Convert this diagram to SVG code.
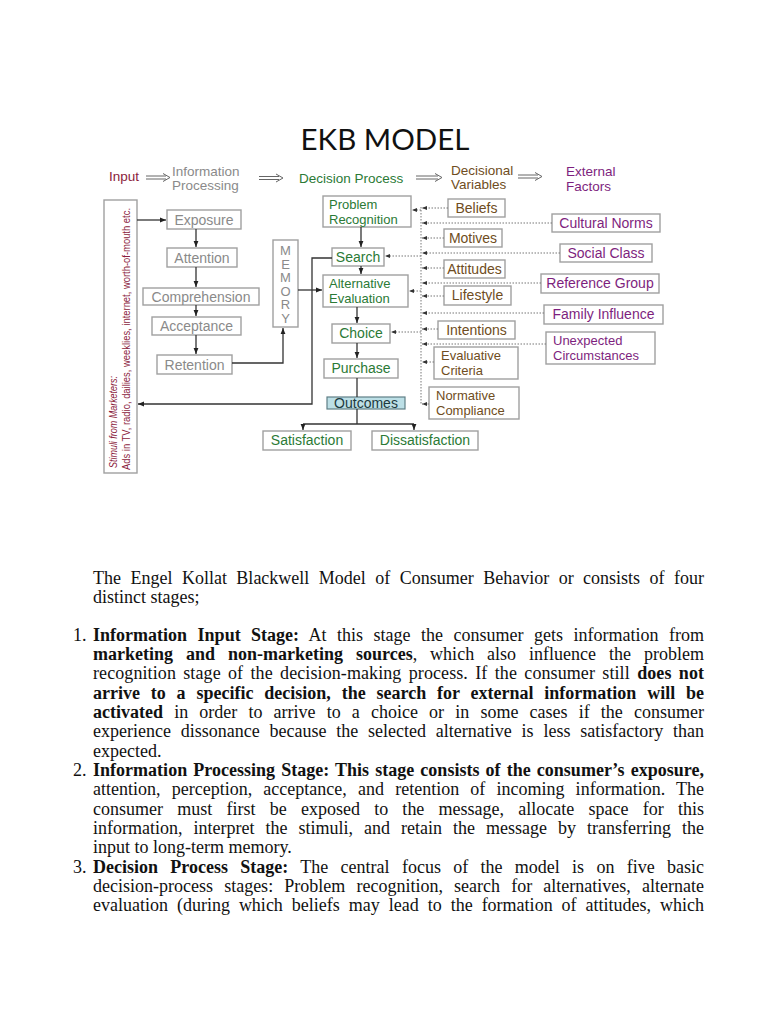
<svg xmlns="http://www.w3.org/2000/svg" width="768" height="1024" viewBox="0 0 768 1024">
<defs>
<marker id="ah" viewBox="0 0 10 10" refX="10" refY="5" markerWidth="6" markerHeight="6" markerUnits="userSpaceOnUse" orient="auto"><path d="M0,1 L10,5 L0,9 z" fill="#222"/></marker>
<marker id="ad" viewBox="0 0 10 10" refX="10" refY="5" markerWidth="5" markerHeight="5" markerUnits="userSpaceOnUse" orient="auto"><path d="M0,1 L10,5 L0,9 z" fill="#333"/></marker>
</defs>
<style>
.box{fill:#fff;stroke:#a0a0a0;stroke-width:1.4}
.t{font-family:"Liberation Sans",Arial,sans-serif;font-size:14px}
.t2{font-family:"Liberation Sans",Arial,sans-serif;font-size:13px}
.h{font-family:"Liberation Sans",Arial,sans-serif;font-size:13.5px}
.ip{fill:#8a8a8a}
.dp{fill:#2b7a36}
.dv{fill:#6f4d22}
.ef{fill:#7e1f7e}
.c{text-anchor:middle}
.solid{fill:none;stroke:#333;stroke-width:1.3}
.dot{fill:none;stroke:#777;stroke-width:1;stroke-dasharray:1.5 1.5}
.hdr{fill:none;stroke:#666;stroke-width:1}
.p{font-family:"Liberation Serif","Times New Roman",serif;font-size:18px;fill:#111}
.b{font-weight:bold}
</style>
<rect width="768" height="1024" fill="#fff"/>

<text x="385" y="150" font-family="Lato,'Open Sans',sans-serif" font-size="29.5" fill="#111" text-anchor="middle">EKB MODEL</text>

<g id="header" class="h">
<text x="109" y="181" fill="#8b1c3c">Input</text>
<text x="172" y="175.5" class="ip">Information</text>
<text x="172" y="190" class="ip">Processing</text>
<text x="299" y="183" class="dp">Decision Process</text>
<text x="451" y="174.5" class="dv">Decisional</text>
<text x="451" y="189" class="dv">Variables</text>
<text x="566" y="176" class="ef">External</text>
<text x="566" y="191" class="ef">Factors</text>
<path class="hdr" d="M146,176 H166 M146,179 H166 M163,173.5 L170,177.5 L163,181.5"/>
<path class="hdr" d="M259,176.5 H279 M259,179.5 H279 M276,174 L283,178 L276,182"/>
<path class="hdr" d="M416,176 H438 M416,179 H438 M435,173.5 L442,177.5 L435,181.5"/>
<path class="hdr" d="M518,175 H538 M518,178 H538 M535,172.5 L542,176.5 L535,180.5"/>
</g>

<g id="stimuli">
<rect class="box" x="104" y="200" width="33" height="273"/>
<text transform="translate(117,468) rotate(-90)" font-family="'Liberation Sans',Arial,sans-serif" font-size="11.5" font-style="italic" fill="#8b1c3c" textLength="92" lengthAdjust="spacingAndGlyphs">Stimuli from Marketers:</text>
<text transform="translate(130,470) rotate(-90)" font-family="'Liberation Sans',Arial,sans-serif" font-size="11.5" fill="#8b1c3c" textLength="262" lengthAdjust="spacingAndGlyphs">Ads in TV, radio, dailies, weeklies, internet, worth-of-mouth etc.</text>
</g>

<g id="exposure"><rect class="box" x="167" y="210" width="74" height="19"/><text class="t ip c" x="204" y="224.5">Exposure</text></g>
<g id="attention"><rect class="box" x="167" y="248" width="70" height="19"/><text class="t ip c" x="202" y="262.5">Attention</text></g>
<g id="comprehension"><rect class="box" x="143" y="288" width="116" height="17"/><text class="t ip c" x="201" y="301.5">Comprehension</text></g>
<g id="acceptance"><rect class="box" x="152" y="317" width="89" height="18"/><text class="t ip c" x="196.5" y="331">Acceptance</text></g>
<g id="retention"><rect class="box" x="157" y="355" width="75" height="19"/><text class="t ip c" x="194.5" y="369.5">Retention</text></g>
<g id="memory"><rect class="box" x="273" y="240" width="25" height="87"/>
<text class="ip c" font-family="'Liberation Sans',Arial,sans-serif" font-size="13"><tspan x="285.5" y="255">M</tspan><tspan x="285.5" y="268.5">E</tspan><tspan x="285.5" y="282">M</tspan><tspan x="285.5" y="295.5">O</tspan><tspan x="285.5" y="309">R</tspan><tspan x="285.5" y="322.5">Y</tspan></text></g>

<g id="problem"><rect class="box" x="323" y="196" width="88" height="31"/><text class="t2 dp" x="329" y="209">Problem</text><text class="t2 dp" x="329" y="223.5">Recognition</text></g>
<g id="search"><rect class="box" x="332" y="248" width="52" height="18"/><text class="t dp c" x="358" y="262">Search</text></g>
<g id="alternative"><rect class="box" x="323" y="275" width="85" height="32"/><text class="t2 dp" x="329" y="288">Alternative</text><text class="t2 dp" x="329" y="302.5">Evaluation</text></g>
<g id="choice"><rect class="box" x="332" y="324" width="58" height="19"/><text class="t dp c" x="361" y="338">Choice</text></g>
<g id="purchase"><rect class="box" x="324" y="359" width="74" height="19"/><text class="t dp c" x="361" y="373">Purchase</text></g>
<g id="outcomes"><rect x="327" y="397" width="78" height="12" fill="#bcdfe6" stroke="#5f7f86" stroke-width="1.2"/><text class="t c" x="366" y="407.5" fill="#1c3a40">Outcomes</text></g>
<g id="satisfaction"><rect class="box" x="263" y="431" width="88" height="19"/><text class="t dp c" x="307" y="445">Satisfaction</text></g>
<g id="dissatisfaction"><rect class="box" x="372" y="431" width="106" height="19"/><text class="t dp c" x="425" y="445">Dissatisfaction</text></g>

<g id="beliefs"><rect class="box" x="448" y="199" width="57" height="18"/><text class="t dv c" x="476.5" y="213">Beliefs</text></g>
<g id="motives"><rect class="box" x="444" y="229" width="58" height="18"/><text class="t dv c" x="473" y="243">Motives</text></g>
<g id="attitudes"><rect class="box" x="444" y="260" width="61" height="18"/><text class="t dv c" x="474.5" y="274">Attitudes</text></g>
<g id="lifestyle"><rect class="box" x="444" y="286" width="67" height="19"/><text class="t dv c" x="477.5" y="300">Lifestyle</text></g>
<g id="intentions"><rect class="box" x="438" y="321" width="77" height="18"/><text class="t dv c" x="476.5" y="335">Intentions</text></g>
<g id="evaluative"><rect class="box" x="434" y="347" width="84" height="32"/><text class="t2 dv" x="441" y="360">Evaluative</text><text class="t2 dv" x="441" y="374.5">Criteria</text></g>
<g id="normative"><rect class="box" x="429" y="387" width="90" height="32"/><text class="t2 dv" x="436" y="400">Normative</text><text class="t2 dv" x="436" y="414.5">Compliance</text></g>

<g id="cultural"><rect class="box" x="552" y="214" width="108" height="18"/><text class="t ef c" x="606" y="228">Cultural Norms</text></g>
<g id="social"><rect class="box" x="560" y="244" width="92" height="18"/><text class="t ef c" x="606" y="258">Social Class</text></g>
<g id="reference"><rect class="box" x="541" y="274" width="118" height="19"/><text class="t ef c" x="600" y="288">Reference Group</text></g>
<g id="family"><rect class="box" x="544" y="305" width="119" height="19"/><text class="t ef c" x="603.5" y="319">Family Influence</text></g>
<g id="unexpected"><rect class="box" x="546" y="332" width="109" height="32"/><text class="t2 ef" x="553" y="345">Unexpected</text><text class="t2 ef" x="553" y="359.5">Circumstances</text></g>

<g id="connectors">
<path class="solid" d="M137,220 H166" marker-end="url(#ah)"/>
<path class="solid" d="M196,229 V247" marker-end="url(#ah)"/>
<path class="solid" d="M196,267 V287" marker-end="url(#ah)"/>
<path class="solid" d="M196,305 V316" marker-end="url(#ah)"/>
<path class="solid" d="M196,335 V354" marker-end="url(#ah)"/>
<path class="solid" d="M232,363 H283 V328" marker-end="url(#ah)"/>
<path class="solid" d="M298,290 H322" marker-end="url(#ah)"/>
<path class="solid" d="M332,258 H312 V404 H138" marker-end="url(#ah)"/>
<path class="solid" d="M361,227 V247" marker-end="url(#ah)"/>
<path class="solid" d="M361,266 V274" marker-end="url(#ah)"/>
<path class="solid" d="M357,307 V323" marker-end="url(#ah)"/>
<path class="solid" d="M357,343 V358" marker-end="url(#ah)"/>
<path class="solid" d="M357,378 V397"/>
<path class="solid" d="M357,409 V424"/>
<path class="solid" d="M303,424 H414"/>
<path class="solid" d="M303,424 V430" marker-end="url(#ah)"/>
<path class="solid" d="M414,424 V430" marker-end="url(#ah)"/>

<path class="dot" d="M421,207 V405"/>
<path class="dot" d="M421,210 H412" marker-end="url(#ad)"/>
<path class="dot" d="M421,256 H385" marker-end="url(#ad)"/>
<path class="dot" d="M421,291 H409" marker-end="url(#ad)"/>
<path class="dot" d="M421,332 H391" marker-end="url(#ad)"/>

<path class="dot" d="M448,208 H422" marker-end="url(#ad)"/>
<path class="dot" d="M552,223 H422" marker-end="url(#ad)"/>
<path class="dot" d="M444,238 H422" marker-end="url(#ad)"/>
<path class="dot" d="M560,253 H422" marker-end="url(#ad)"/>
<path class="dot" d="M444,268 H422" marker-end="url(#ad)"/>
<path class="dot" d="M541,283 H422" marker-end="url(#ad)"/>
<path class="dot" d="M444,296 H422" marker-end="url(#ad)"/>
<path class="dot" d="M544,313 H422" marker-end="url(#ad)"/>
<path class="dot" d="M438,329 H422" marker-end="url(#ad)"/>
<path class="dot" d="M546,344 H422" marker-end="url(#ad)"/>
<path class="dot" d="M434,362 H422" marker-end="url(#ad)"/>
<path class="dot" d="M429,404 H422" marker-end="url(#ad)"/>
</g>

<g id="body" class="p">
<text x="93" y="584" word-spacing="4.96" textLength="611" lengthAdjust="spacing">The Engel Kollat Blackwell Model of Consumer Behavior or consists of four</text>
<text x="93" y="603">distinct stages;</text>
<text x="73" y="641">1.</text>
<text x="93" y="641" word-spacing="5.9" textLength="611" lengthAdjust="spacing"><tspan class="b">Information Input Stage:</tspan> At this stage the consumer gets information from</text>
<text x="93" y="660" word-spacing="8.44" textLength="611" lengthAdjust="spacing"><tspan class="b">marketing and non-marketing sources</tspan>, which also influence the problem</text>
<text x="93" y="679" word-spacing="2.72" textLength="611" lengthAdjust="spacing">recognition stage of the decision-making process. If the consumer still <tspan class="b">does not</tspan></text>
<text x="93" y="699" word-spacing="6.28" textLength="611" lengthAdjust="spacing" class="b">arrive to a specific decision, the search for external information will be</text>
<text x="93" y="718" word-spacing="6.65" textLength="611" lengthAdjust="spacing"><tspan class="b">activated</tspan> in order to arrive to a choice or in some cases if the consumer</text>
<text x="93" y="737" word-spacing="5.3" textLength="611" lengthAdjust="spacing">experience dissonance because the selected alternative is less satisfactory than</text>
<text x="93" y="757">expected.</text>
<text x="73" y="776">2.</text>
<text x="93" y="776" word-spacing="1.56" textLength="611" lengthAdjust="spacing" class="b">Information Processing Stage: This stage consists of the consumer’s exposure,</text>
<text x="93" y="795" word-spacing="6.64" textLength="611" lengthAdjust="spacing">attention, perception, acceptance, and retention of incoming information. The</text>
<text x="93" y="815" word-spacing="9.74" textLength="611" lengthAdjust="spacing">consumer must first be exposed to the message, allocate space for this</text>
<text x="93" y="834" word-spacing="6.51" textLength="611" lengthAdjust="spacing">information, interpret the stimuli, and retain the message by transferring the</text>
<text x="93" y="853">input to long-term memory.</text>
<text x="73" y="873">3.</text>
<text x="93" y="873" word-spacing="7.76" textLength="611" lengthAdjust="spacing"><tspan class="b">Decision Process Stage:</tspan> The central focus of the model is on five basic</text>
<text x="93" y="892" word-spacing="6.66" textLength="611" lengthAdjust="spacing">decision-process stages: Problem recognition, search for alternatives, alternate</text>
<text x="93" y="911" word-spacing="4.46" textLength="611" lengthAdjust="spacing">evaluation (during which beliefs may lead to the formation of attitudes, which</text>
</g>
</svg>
